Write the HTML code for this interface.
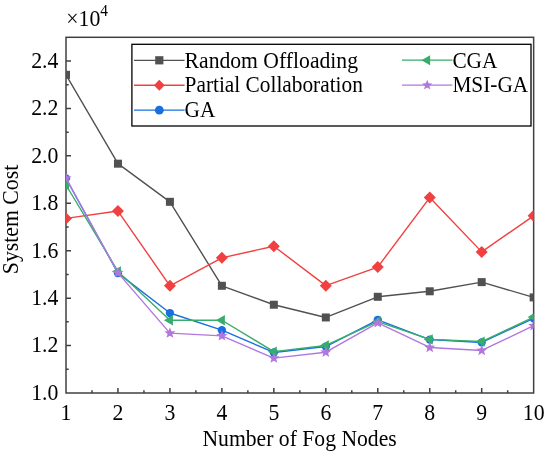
<!DOCTYPE html>
<html><head><meta charset="utf-8"><title>System Cost vs Number of Fog Nodes</title>
<style>
html,body{margin:0;padding:0;background:#fff;}
body{width:550px;height:457px;overflow:hidden;}
svg{display:block;}
text{font-family:"Liberation Serif","Times New Roman",serif;fill:#000;}
</style></head><body>
<svg width="550" height="457" viewBox="0 0 550 457">
<rect width="550" height="457" fill="#fff"/>

<defs><clipPath id="plot"><rect x="66.0" y="37.3" width="467.65" height="355.7"/></clipPath></defs>
<path d="M66.0 369.29h2.7 M66.0 345.57h5 M66.0 321.86h2.7 M66.0 298.15h5 M66.0 274.43h2.7 M66.0 250.72h5 M66.0 227.01h2.7 M66.0 203.29h5 M66.0 179.58h2.7 M66.0 155.87h5 M66.0 132.15h2.7 M66.0 108.44h5 M66.0 84.73h2.7 M66.0 61.01h5 M91.98 393.0v-2.7 M117.96 393.0v-5 M143.94 393.0v-2.7 M169.92 393.0v-5 M195.90 393.0v-2.7 M221.88 393.0v-5 M247.86 393.0v-2.7 M273.84 393.0v-5 M299.82 393.0v-2.7 M325.81 393.0v-5 M351.79 393.0v-2.7 M377.77 393.0v-5 M403.75 393.0v-2.7 M429.73 393.0v-5 M455.71 393.0v-2.7 M481.69 393.0v-5 M507.67 393.0v-2.7" stroke="#404040" stroke-width="1.5" fill="none"/>
<rect x="66.0" y="37.3" width="467.65" height="355.7" fill="none" stroke="#404040" stroke-width="1.5"/>
<g clip-path="url(#plot)">
<polyline points="66.00,74.81 117.96,163.68 169.92,201.82 221.88,285.79 273.84,304.72 325.81,317.46 377.77,296.80 429.73,291.29 481.69,282.12 533.65,297.40" fill="none" stroke="#515151" stroke-width="1.4" stroke-linejoin="round"/>
<rect x="62.00" y="70.81" width="8.0" height="8.0" fill="#515151"/>
<rect x="113.96" y="159.68" width="8.0" height="8.0" fill="#515151"/>
<rect x="165.92" y="197.82" width="8.0" height="8.0" fill="#515151"/>
<rect x="217.88" y="281.79" width="8.0" height="8.0" fill="#515151"/>
<rect x="269.84" y="300.72" width="8.0" height="8.0" fill="#515151"/>
<rect x="321.81" y="313.46" width="8.0" height="8.0" fill="#515151"/>
<rect x="373.77" y="292.80" width="8.0" height="8.0" fill="#515151"/>
<rect x="425.73" y="287.29" width="8.0" height="8.0" fill="#515151"/>
<rect x="477.69" y="278.12" width="8.0" height="8.0" fill="#515151"/>
<rect x="529.65" y="293.40" width="8.0" height="8.0" fill="#515151"/>
<polyline points="66.00,218.40 117.96,211.06 169.92,285.79 221.88,257.82 273.84,246.21 325.81,285.67 377.77,267.05 429.73,197.60 481.69,251.89 533.65,215.79" fill="none" stroke="#F14040" stroke-width="1.4" stroke-linejoin="round"/>
<polygon points="66.00,212.40 72.00,218.40 66.00,224.40 60.00,218.40" fill="#F14040"/>
<polygon points="117.96,205.06 123.96,211.06 117.96,217.06 111.96,211.06" fill="#F14040"/>
<polygon points="169.92,279.79 175.92,285.79 169.92,291.79 163.92,285.79" fill="#F14040"/>
<polygon points="221.88,251.82 227.88,257.82 221.88,263.82 215.88,257.82" fill="#F14040"/>
<polygon points="273.84,240.21 279.84,246.21 273.84,252.21 267.84,246.21" fill="#F14040"/>
<polygon points="325.81,279.67 331.81,285.67 325.81,291.67 319.81,285.67" fill="#F14040"/>
<polygon points="377.77,261.05 383.77,267.05 377.77,273.05 371.77,267.05" fill="#F14040"/>
<polygon points="429.73,191.60 435.73,197.60 429.73,203.60 423.73,197.60" fill="#F14040"/>
<polygon points="481.69,245.89 487.69,251.89 481.69,257.89 475.69,251.89" fill="#F14040"/>
<polygon points="533.65,209.79 539.65,215.79 533.65,221.79 527.65,215.79" fill="#F14040"/>
<polyline points="66.00,178.37 117.96,273.12 169.92,313.03 221.88,330.20 273.84,352.47 325.81,346.55 377.77,319.78 429.73,339.56 481.69,342.43 533.65,318.36" fill="none" stroke="#1A6FDF" stroke-width="1.4" stroke-linejoin="round"/>
<circle cx="66.00" cy="178.37" r="4.15" fill="#1A6FDF"/>
<circle cx="117.96" cy="273.12" r="4.15" fill="#1A6FDF"/>
<circle cx="169.92" cy="313.03" r="4.15" fill="#1A6FDF"/>
<circle cx="221.88" cy="330.20" r="4.15" fill="#1A6FDF"/>
<circle cx="273.84" cy="352.47" r="4.15" fill="#1A6FDF"/>
<circle cx="325.81" cy="346.55" r="4.15" fill="#1A6FDF"/>
<circle cx="377.77" cy="319.78" r="4.15" fill="#1A6FDF"/>
<circle cx="429.73" cy="339.56" r="4.15" fill="#1A6FDF"/>
<circle cx="481.69" cy="342.43" r="4.15" fill="#1A6FDF"/>
<circle cx="533.65" cy="318.36" r="4.15" fill="#1A6FDF"/>
<polyline points="66.00,185.00 117.96,271.46 169.92,320.25 221.88,320.25 273.84,351.64 325.81,345.48 377.77,321.56 429.73,339.39 481.69,341.57 533.65,317.06" fill="none" stroke="#37AD6B" stroke-width="1.4" stroke-linejoin="round"/>
<polygon points="60.00,185.00 69.00,179.81 69.00,190.20" fill="#37AD6B"/>
<polygon points="111.96,271.46 120.96,266.26 120.96,276.66" fill="#37AD6B"/>
<polygon points="163.92,320.25 172.92,315.06 172.92,325.45" fill="#37AD6B"/>
<polygon points="215.88,320.25 224.88,315.06 224.88,325.45" fill="#37AD6B"/>
<polygon points="267.84,351.64 276.84,346.44 276.84,356.84" fill="#37AD6B"/>
<polygon points="319.81,345.48 328.81,340.29 328.81,350.68" fill="#37AD6B"/>
<polygon points="371.77,321.56 380.77,316.36 380.77,326.75" fill="#37AD6B"/>
<polygon points="423.73,339.39 432.73,334.20 432.73,344.59" fill="#37AD6B"/>
<polygon points="475.69,341.57 484.69,336.38 484.69,346.77" fill="#37AD6B"/>
<polygon points="527.65,317.06 536.65,311.86 536.65,322.25" fill="#37AD6B"/>
<polyline points="66.00,178.37 117.96,272.88 169.92,333.16 221.88,335.89 273.84,358.15 325.81,352.23 377.77,322.86 429.73,347.49 481.69,350.46 533.65,325.70" fill="none" stroke="#B177DE" stroke-width="1.4" stroke-linejoin="round"/>
<polygon points="66.00,172.57 67.47,176.35 71.52,176.58 68.38,179.14 69.41,183.06 66.00,180.87 62.59,183.06 63.62,179.14 60.48,176.58 64.53,176.35" fill="#B177DE"/>
<polygon points="117.96,267.08 119.43,270.86 123.48,271.09 120.34,273.65 121.37,277.57 117.96,275.38 114.55,277.57 115.58,273.65 112.44,271.09 116.49,270.86" fill="#B177DE"/>
<polygon points="169.92,327.36 171.39,331.14 175.44,331.37 172.30,333.94 173.33,337.86 169.92,335.66 166.51,337.86 167.54,333.94 164.41,331.37 168.45,331.14" fill="#B177DE"/>
<polygon points="221.88,330.09 223.35,333.87 227.40,334.10 224.26,336.66 225.29,340.58 221.88,338.39 218.47,340.58 219.51,336.66 216.37,334.10 220.41,333.87" fill="#B177DE"/>
<polygon points="273.84,352.35 275.31,356.13 279.36,356.36 276.22,358.93 277.25,362.85 273.84,360.65 270.44,362.85 271.47,358.93 268.33,356.36 272.37,356.13" fill="#B177DE"/>
<polygon points="325.81,346.43 327.28,350.21 331.32,350.44 328.18,353.00 329.21,356.92 325.81,354.73 322.40,356.92 323.43,353.00 320.29,350.44 324.34,350.21" fill="#B177DE"/>
<polygon points="377.77,317.06 379.24,320.84 383.28,321.07 380.14,323.63 381.18,327.55 377.77,325.36 374.36,327.55 375.39,323.63 372.25,321.07 376.30,320.84" fill="#B177DE"/>
<polygon points="429.73,341.69 431.20,345.47 435.24,345.70 432.11,348.27 433.14,352.19 429.73,349.99 426.32,352.19 427.35,348.27 424.21,345.70 428.26,345.47" fill="#B177DE"/>
<polygon points="481.69,344.66 483.16,348.43 487.21,348.66 484.07,351.23 485.10,355.15 481.69,352.96 478.28,355.15 479.31,351.23 476.17,348.66 480.22,348.43" fill="#B177DE"/>
<polygon points="533.65,319.90 535.12,323.68 539.17,323.91 536.03,326.48 537.06,330.39 533.65,328.20 530.24,330.39 531.27,326.48 528.13,323.91 532.18,323.68" fill="#B177DE"/>
</g>
<text transform="translate(58.40 399.90) scale(0.99 1.07)" font-size="22" text-anchor="end">1.0</text>
<text transform="translate(58.40 352.47) scale(0.99 1.07)" font-size="22" text-anchor="end">1.2</text>
<text transform="translate(58.40 305.05) scale(0.99 1.07)" font-size="22" text-anchor="end">1.4</text>
<text transform="translate(58.40 257.62) scale(0.99 1.07)" font-size="22" text-anchor="end">1.6</text>
<text transform="translate(58.40 210.19) scale(0.99 1.07)" font-size="22" text-anchor="end">1.8</text>
<text transform="translate(58.40 162.77) scale(0.99 1.07)" font-size="22" text-anchor="end">2.0</text>
<text transform="translate(58.40 115.34) scale(0.99 1.07)" font-size="22" text-anchor="end">2.2</text>
<text transform="translate(58.40 67.91) scale(0.99 1.07)" font-size="22" text-anchor="end">2.4</text>
<text transform="translate(66.00 419.80) scale(0.99 1.07)" font-size="22" text-anchor="middle">1</text>
<text transform="translate(117.96 419.80) scale(0.99 1.07)" font-size="22" text-anchor="middle">2</text>
<text transform="translate(169.92 419.80) scale(0.99 1.07)" font-size="22" text-anchor="middle">3</text>
<text transform="translate(221.88 419.80) scale(0.99 1.07)" font-size="22" text-anchor="middle">4</text>
<text transform="translate(273.84 419.80) scale(0.99 1.07)" font-size="22" text-anchor="middle">5</text>
<text transform="translate(325.81 419.80) scale(0.99 1.07)" font-size="22" text-anchor="middle">6</text>
<text transform="translate(377.77 419.80) scale(0.99 1.07)" font-size="22" text-anchor="middle">7</text>
<text transform="translate(429.73 419.80) scale(0.99 1.07)" font-size="22" text-anchor="middle">8</text>
<text transform="translate(481.69 419.80) scale(0.99 1.07)" font-size="22" text-anchor="middle">9</text>
<text transform="translate(533.65 419.80) scale(0.99 1.07)" font-size="22" text-anchor="middle">10</text>
<text transform="translate(299.60 445.90) scale(0.985 1.07)" font-size="22" text-anchor="middle">Number of Fog Nodes</text>
<text transform="translate(17.80 219.50) rotate(-90) scale(0.99 1.07)" font-size="22" text-anchor="middle">System Cost</text>
<text transform="translate(66.30 25.70) scale(0.99 1.07)" font-size="22">×10<tspan font-size="15.5" dy="-9">4</tspan></text>
<rect x="131.9" y="44.3" width="399.1" height="81.7" fill="#fff" stroke="#000" stroke-width="1.3"/>
<line x1="134.0" y1="60.3" x2="184.6" y2="60.3" stroke="#515151" stroke-width="1.3"/>
<rect x="155.20" y="56.20" width="8.2" height="8.2" fill="#515151"/>
<text transform="translate(184.60 67.70) scale(0.985 1.05)" font-size="22">Random Offloading</text>
<line x1="134.0" y1="85.25" x2="184.6" y2="85.25" stroke="#F14040" stroke-width="1.3"/>
<polygon points="159.30,79.85 164.70,85.25 159.30,90.65 153.90,85.25" fill="#F14040"/>
<text transform="translate(184.60 92.10) scale(0.97 1.05)" font-size="22">Partial Collaboration</text>
<line x1="134.0" y1="110.2" x2="184.6" y2="110.2" stroke="#1A6FDF" stroke-width="1.3"/>
<circle cx="159.30" cy="110.20" r="4.4" fill="#1A6FDF"/>
<text transform="translate(184.60 117.00) scale(0.97 1.05)" font-size="22">GA</text>
<line x1="402" y1="60.2" x2="452.4" y2="60.2" stroke="#37AD6B" stroke-width="1.3"/>
<polygon points="421.40,60.20 430.10,55.18 430.10,65.22" fill="#37AD6B"/>
<text transform="translate(452.40 67.70) scale(0.97 1.05)" font-size="22">CGA</text>
<line x1="402" y1="85.2" x2="452.4" y2="85.2" stroke="#B177DE" stroke-width="1.3"/>
<polygon points="427.20,79.80 428.58,83.30 432.34,83.53 429.43,85.93 430.37,89.57 427.20,87.55 424.03,89.57 424.97,85.93 422.06,83.53 425.82,83.30" fill="#B177DE"/>
<text transform="translate(452.40 92.10) scale(0.97 1.05)" font-size="22">MSI-GA</text>
</svg></body></html>
